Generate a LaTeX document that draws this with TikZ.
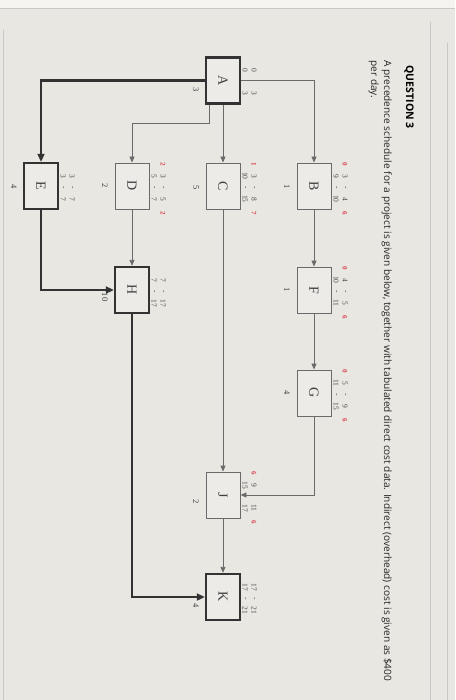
\documentclass[tikz,border=0pt]{standalone}
\usepackage{fontspec}
\setmainfont{Liberation Serif}
\newfontfamily\qfont{Open Sans}
\usetikzlibrary{arrows.meta,positioning,calc}
\definecolor{paper}{HTML}{E8E7E1}
\definecolor{boxfill}{HTML}{ECEBE7}
\definecolor{ink}{HTML}{333333}
\definecolor{thin}{HTML}{6A6A6A}
\definecolor{mark}{HTML}{D94452}
\tikzset{act/.style={rectangle,draw=thin,fill=boxfill,line width=.9pt,minimum width=34pt,
    minimum height=46pt,inner sep=0pt,text=black!75,font=\fontsize{14}{14}\selectfont},
  crit/.style={act,draw=ink,line width=2.4pt},
  num/.style={rotate=-90,inner sep=0pt,text=black!72,font=\fontsize{7.5}{8}\selectfont},
  cost/.style={num,text=mark,font=\bfseries\fontsize{7}{8}\selectfont},
  dur/.style={num,text=black!75,font=\fontsize{8.5}{9}\selectfont},
  link/.style={draw=thin,line width=.9pt,-{Triangle[length=6pt,width=5pt]}},
  clink/.style={draw=ink,line width=2.2pt,-{Triangle[length=8pt,width=7pt]}},
  frame/.style={draw=black!22,line width=.8pt}}

\begin{document}
\begin{tikzpicture}[x=1pt,y=-1pt]
\useasboundingbox (0,0) rectangle (455,700);
\fill[paper] (0,0) rectangle (455,700);
\fill[white!55!paper] (0,0) rectangle (455,8);
% page edges in the photo
\draw[frame] (0,8) -- (455,8);
\draw[frame] (430,22) -- (430,700);
\draw[frame] (447,43) -- (447,700);
\draw[frame] (3,30) -- (3,700);
% heading
\node[rotate=-90,anchor=base west,font=\qfont\bfseries\fontsize{10.5}{12}\selectfont] (q) at (406,62) {QUESTION 3};
\node[rotate=-90,anchor=base west,text=black!85,font=\qfont\fontsize{10.1}{12}\selectfont] (intro) at (384,57)
  {A precedence schedule for a project is given below, together with tabulated direct cost data. Indirect (overhead) cost is given as \$400};
\node[rotate=-90,anchor=base west,text=black!85,font=\qfont\fontsize{10.1}{12}\selectfont] (intro2) at (371,57) {per day.};
% activities
\foreach \n/\s/\x/\y in {A/crit/223/80.5,B/act/314/186,C/act/223/186,D/act/132/186,E/crit/41/186,
  F/act/314/290,H/crit/132/290,G/act/314/393,J/act/223/495,K/crit/223/597}
  \node[\s] (\n) at (\x,\y) {\rotatebox{-90}{\n}};
% times, durations and red marks
\foreach \n/\es/\ef/\ls/\lf/\dsh/\d/\dy/\ra/\rb in {A/0/3/0/3/{}/3/9.5/{}/{},B/3/4/9/10/-/1/1/0/6,
  C/3/8/10/15/-/5/2/1/7,D/3/5/5/7/-/2/0/2/2,E/3/7/3/7/-/4/1/{}/{},F/4/5/10/11/-/1/0/0/6,
  G/5/9/11/15/-/4/0/0/6,H/7/17/7/17/-/10/7/{}/{},J/9/11/15/17/{}/2/7/6/6,K/17/21/17/21/-/4/9/{}/{}}{
  \node[num] (\n-es) at ($(\n)+(31,-10)$) {\es};
  \node[num] (\n-d1) at ($(\n)+(31,2)$) {\dsh};
  \node[num] (\n-ef) at ($(\n)+(31,13)$) {\ef};
  \node[num] (\n-ls) at ($(\n)+(22,-10)$) {\ls};
  \node[num] (\n-d2) at ($(\n)+(22,2)$) {\dsh};
  \node[num] (\n-lf) at ($(\n)+(22,13)$) {\lf};
  \node[cost] (\n-ra) at ($(\n)+(31,-22)$) {\ra};
  \node[cost] (\n-rb) at ($(\n)+(31,27)$) {\rb};
  \node[dur] (\n-t) at ($(\n)+(-27,\dy)$) {\d};
}
% links
\draw[clink] (A.west) -| (E.north);
\draw[link] ([xshift=5pt]A.south west) -- ++(0,19) -| (D.north);
\draw[link] (A.south) -- (C.north);
\draw[link] (A.east) -| (B.north);
\draw[link] (B.south) -- (F.north);
\draw[link] (F.south) -- (G.north);
\draw[link] (G.south) |- (J.east);
\draw[link] (C.south) -- (J.north);
\draw[link] (J.south) -- (K.north);
\draw[link] (D.south) -- (H.north);
\draw[clink] (E.south) |- (H.west);
\draw[clink] (H.south) |- (K.west);
\end{tikzpicture}
\end{document}
